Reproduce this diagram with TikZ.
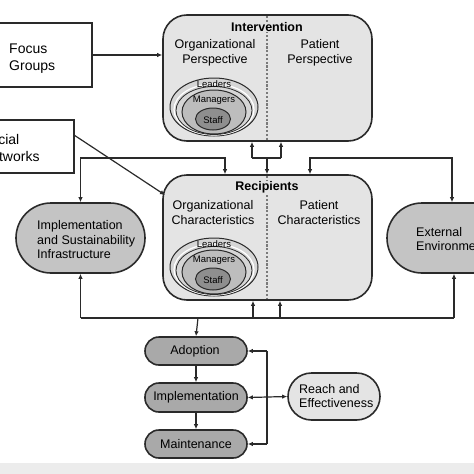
\documentclass[tikz,border=0pt]{standalone}
\usepackage{fontspec}
\setmainfont{Liberation Sans}
\usetikzlibrary{arrows.meta}
\definecolor{linec}{HTML}{2A2A2A}
\definecolor{boxfill}{HTML}{E4E4E4}
\definecolor{infra}{HTML}{C4C4C4}
\definecolor{stage}{HTML}{A9A9A9}
\definecolor{leadf}{HTML}{D6D6D6}
\definecolor{manf}{HTML}{BDBDBD}
\definecolor{stafff}{HTML}{8E8E8E}
\definecolor{dashc}{HTML}{7A7A7A}
\definecolor{band}{HTML}{ECECEC}
\begin{document}
\begin{tikzpicture}[x=1pt,y=-1pt,
  bigbox/.style={draw=linec, line width=1.6pt, fill=boxfill, rounded corners=24pt, inner sep=0pt},
  plainbox/.style={draw=linec, line width=1.1pt, fill=white, inner sep=0pt},
  stad/.style={draw=linec, line width=1.6pt, inner sep=0pt},
  lbl/.style={font=\fontsize{12.5}{14.5}\selectfont, align=center, inner sep=0pt, text=black},
  bold/.style={font=\fontsize{12.5}{14.5}\selectfont\bfseries, inner sep=0.6pt, fill=boxfill},
  small/.style={font=\fontsize{9.5}{11}\selectfont, inner sep=0pt},
  conn/.style={line width=1.2pt, draw=linec},
  arr/.style={conn, -{Latex[length=5pt,width=4.5pt]}},
  arrb/.style={conn, {Latex[length=5pt,width=4.5pt]}-{Latex[length=5pt,width=4.5pt]}},
  dsh/.style={draw=dashc, line width=1.3pt, dash pattern=on 2.2pt off 1.6pt}
]
\useasboundingbox (0,0) rectangle (474,474);
\clip (0,0) rectangle (474,474);
\fill[band] (0,463) rectangle (474,474);

% left boxes
\node[plainbox, minimum width=96pt, minimum height=64pt] (focus) at (44,55) {};
\node[lbl, font=\fontsize{14}{17}\selectfont, align=left, anchor=west] (focust) at (9,58.5) {Focus\\Groups};
\node[plainbox, minimum width=104pt, minimum height=53pt] (soc) at (22,146.5) {};
\node[lbl, font=\fontsize{14}{17}\selectfont, align=left, anchor=west] (soct) at (-19,147.5) {Social\\Networks};

% Intervention
\node[bigbox, minimum width=209pt, minimum height=126pt] (intv) at (267.5,78) {};
\draw[dsh] (267,16) -- (267,140);
\node[bold] (intvt) at (267,27) {Intervention};
\node[lbl] (orgp) at (215,53) {Organizational\\Perspective};
\node[lbl] (patp) at (320,53) {Patient\\Perspective};
\draw[draw=linec, line width=1pt, fill=leadf] (214,107) ellipse [x radius=44pt, y radius=29pt];
\draw[draw=white, line width=1.2pt] (214,109.5) ellipse [x radius=40pt, y radius=25.5pt];
\draw[draw=linec, line width=0.8pt] (214,110.5) ellipse [x radius=38pt, y radius=24pt];
\draw[draw=linec, line width=1pt, fill=manf] (214,112) ellipse [x radius=32pt, y radius=22pt];
\draw[draw=linec, line width=1pt, fill=stafff] (213,119) ellipse [x radius=17.5pt, y radius=11pt];
\node[small] (lead1) at (214,84) {Leaders};
\node[small] (man1) at (214,100) {Managers};
\node[small] (staff1) at (213,120) {Staff};

% Recipients
\node[bigbox, minimum width=209pt, minimum height=125pt] (recip) at (267.5,237.5) {};
\draw[dsh] (267,176) -- (267,299);
\node[bold] (recipt) at (267,187) {Recipients};
\node[lbl] (orgc) at (213,212.5) {Organizational\\Characteristics};
\node[lbl] (patc) at (319,212.5) {Patient\\Characteristics};
\draw[draw=linec, line width=1pt, fill=leadf] (214,267) ellipse [x radius=44pt, y radius=29pt];
\draw[draw=white, line width=1.2pt] (214,269.5) ellipse [x radius=40pt, y radius=25.5pt];
\draw[draw=linec, line width=0.8pt] (214,270.5) ellipse [x radius=38pt, y radius=24pt];
\draw[draw=linec, line width=1pt, fill=manf] (214,272) ellipse [x radius=32pt, y radius=22pt];
\draw[draw=linec, line width=1pt, fill=stafff] (213,279) ellipse [x radius=17.5pt, y radius=11pt];
\node[small] (lead2) at (214,244) {Leaders};
\node[small] (man2) at (214,260) {Managers};
\node[small] (staff2) at (213,280) {Staff};

% side stadiums
\node[stad, fill=infra, rounded corners=35pt, minimum width=129pt, minimum height=70pt] (infr) at (80.5,238) {};
\node[lbl, align=left, anchor=west] (infrt) at (37,240) {Implementation\\and Sustainability\\Infrastructure};
\node[stad, fill=infra, rounded corners=35pt, minimum width=160pt, minimum height=70pt] (ext) at (467,238) {};
\node[lbl, align=left, anchor=west] (extt) at (416,239) {External\\Environment};

% bottom stages
\node[stad, fill=stage, rounded corners=14pt, minimum width=102pt, minimum height=28pt] (adop) at (196,351) {};
\node[lbl] (adopt) at (195,351) {Adoption};
\node[stad, fill=stage, rounded corners=14pt, minimum width=102pt, minimum height=29pt] (impl) at (196,397.5) {};
\node[lbl] (implt) at (196,397.5) {Implementation};
\node[stad, fill=stage, rounded corners=14pt, minimum width=102pt, minimum height=28pt] (maint) at (196,444) {};
\node[lbl] (maintt) at (196,444) {Maintenance};
\node[stad, fill=boxfill, rounded corners=23.5pt, minimum width=92pt, minimum height=47pt] (reach) at (334,396.5) {};
\node[lbl, align=left, anchor=west] (reacht) at (299,396) {Reach and\\Effectiveness};

% coordinates
\coordinate (jl) at (225,158);
\coordinate (ja) at (252,158);
\coordinate (jm) at (267,158);
\coordinate (jb) at (281,158);
\coordinate (jr) at (310,158);
\coordinate (je) at (452,158);
\coordinate (bl) at (80.5,318);
\coordinate (bd) at (198,318);
\coordinate (ba) at (253,318);
\coordinate (bb) at (280,318);
\coordinate (be) at (454,318);
\coordinate (rv) at (267,351);
\coordinate (rvb) at (267,444);
\coordinate (socout) at (74,135);
\coordinate (recin) at (165,195);

% connectors
\draw[arr] (focus.east) -- (focus.east -| intv.west);
\draw[arr] (socout) -- (recin);
\draw[arrb] (infr.north) |- (jl) -- (jl |- recip.north);
\draw[arr] (ja) -- (ja |- intv.south);
\draw[arr] (jb) -- (jb |- intv.south);
\draw[conn] (ja) -- (jb);
\draw[arr] (jm) -- (jm |- recip.north);
\draw[arrb] (jr |- recip.north) -- (jr) -- (je) -- (je |- ext.north);
\draw[arr] (bl) -- (infr.south);
\draw[conn] (bl) -- (be);
\draw[arr] (be) -- (be |- ext.south);
\draw[arr] (ba) -- (ba |- recip.south);
\draw[arr] (bb) -- (bb |- recip.south);
\draw[arr] (bd) -- (adop.north);
\draw[arr] (adop.south) -- (impl.north);
\draw[arr] (impl.south) -- (maint.north);
\draw[arr] (rv) -- (adop.east);
\draw[arr] (rvb) -- (maint.east);
\draw[conn] (rv) -- (rvb);
\draw[arrb] (impl.east) -- (reach.west);
\end{tikzpicture}
\end{document}
